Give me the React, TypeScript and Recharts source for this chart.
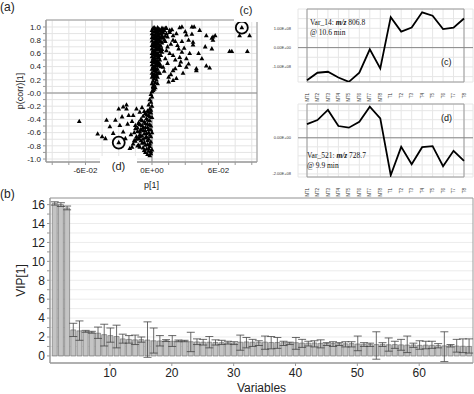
import React from "react";
import {
  ScatterChart,
  Scatter,
  LineChart,
  Line,
  BarChart,
  Bar,
  ErrorBar,
  XAxis,
  YAxis,
  CartesianGrid,
  ReferenceLine,
  ReferenceDot,
  ReferenceArea
} from "recharts";

const SANS = "Arial, 'Liberation Sans', sans-serif";
const SERIF = "'Times New Roman', 'Liberation Serif', serif";

// (a) S-plot: [p[1], p(corr)[1]]
const bandPos: [number, number][] = [
  [0.001, 0.98], [0.003, 0.97], [0.005, 0.99], [0.007, 0.96], [0.009, 0.98], [0.011, 0.95],
  [0.002, 0.93], [0.004, 0.91], [0.006, 0.94], [0.008, 0.9], [0.01, 0.92], [0.013, 0.9],
  [0.001, 0.88], [0.003, 0.86], [0.005, 0.87], [0.007, 0.84], [0.009, 0.86],
  [0.002, 0.82], [0.004, 0.8], [0.006, 0.81], [0.008, 0.78], [0.011, 0.8],
  [0.001, 0.76], [0.003, 0.74], [0.005, 0.75], [0.007, 0.72],
  [0.002, 0.7], [0.004, 0.68], [0.006, 0.69], [0.009, 0.66],
  [0.001, 0.64], [0.003, 0.62], [0.005, 0.6], [0.007, 0.63],
  [0.002, 0.58], [0.004, 0.56], [0.006, 0.54], [0.008, 0.57],
  [0.001, 0.52], [0.003, 0.5], [0.005, 0.48], [0.007, 0.5],
  [0.002, 0.46], [0.004, 0.44], [0.006, 0.42],
  [0.001, 0.4], [0.003, 0.38], [0.005, 0.36], [0.008, 0.4],
  [0.002, 0.34], [0.004, 0.32], [0.006, 0.3],
  [0.001, 0.28], [0.003, 0.26], [0.005, 0.24],
  [0.002, 0.22], [0.004, 0.2], [0.001, 0.18], [0.003, 0.16], [0.005, 0.14],
  [0.002, 0.12], [0.001, 0.1], [0.003, 0.08], [0.002, 0.06], [0.001, 0.04], [0.0, 0.02]
];

const bandPos2: [number, number][] = [
  [0.0, 0.95], [0.002, 0.99], [0.004, 0.95], [0.006, 0.97], [0.008, 0.94], [0.01, 0.97], [0.012, 0.98],
  [0.0, 0.9], [0.003, 0.89], [0.005, 0.92], [0.007, 0.89], [0.009, 0.91], [0.012, 0.86],
  [0.0, 0.84], [0.002, 0.85], [0.004, 0.84], [0.006, 0.86], [0.008, 0.83], [0.01, 0.84],
  [0.0, 0.79], [0.003, 0.78], [0.005, 0.8], [0.007, 0.78], [0.009, 0.76],
  [0.0, 0.72], [0.002, 0.73], [0.004, 0.72], [0.006, 0.74], [0.008, 0.71],
  [0.0, 0.67], [0.003, 0.66], [0.005, 0.66], [0.007, 0.67],
  [0.0, 0.6], [0.002, 0.61], [0.004, 0.6], [0.006, 0.58],
  [0.0, 0.55], [0.002, 0.54], [0.005, 0.53],
  [0.0, 0.48], [0.002, 0.49], [0.004, 0.47], [0.006, 0.46],
  [0.0, 0.43], [0.003, 0.42], [0.005, 0.41],
  [0.0, 0.36], [0.002, 0.37], [0.004, 0.35],
  [0.0, 0.3], [0.002, 0.29], [0.004, 0.28],
  [0.0, 0.24], [0.002, 0.25], [0.0, 0.14], [0.001, 0.08]
];

const bandNeg: [number, number][] = [
  [-0.001, -0.02], [0.0, -0.06], [-0.002, -0.1], [-0.001, -0.14], [-0.003, -0.18], [0.0, -0.2],
  [-0.002, -0.24], [-0.004, -0.27], [-0.001, -0.3], [-0.006, -0.31], [-0.003, -0.34], [-0.008, -0.35],
  [0.0, -0.37], [-0.005, -0.39], [-0.01, -0.4], [-0.002, -0.42], [-0.007, -0.44], [-0.012, -0.45],
  [-0.004, -0.47], [-0.009, -0.49], [-0.001, -0.5], [-0.006, -0.52], [-0.013, -0.53], [-0.003, -0.55],
  [-0.008, -0.57], [-0.011, -0.59], [0.0, -0.6], [-0.005, -0.61], [-0.002, -0.64], [-0.009, -0.65],
  [-0.014, -0.66], [-0.006, -0.68], [-0.003, -0.7], [-0.01, -0.72], [-0.001, -0.74], [-0.007, -0.75],
  [-0.004, -0.78], [-0.012, -0.79], [-0.002, -0.81], [-0.008, -0.83], [-0.005, -0.85], [0.0, -0.86],
  [-0.003, -0.88], [-0.006, -0.9], [-0.001, -0.92], [-0.004, -0.93]
];

const bandNeg2: [number, number][] = [
  [-0.001, -0.26], [-0.003, -0.29], [-0.005, -0.33], [-0.002, -0.36], [-0.004, -0.41], [-0.009, -0.42],
  [-0.006, -0.46], [-0.011, -0.48], [-0.015, -0.49], [-0.002, -0.48], [-0.004, -0.52], [-0.008, -0.53],
  [-0.01, -0.55], [-0.001, -0.56], [-0.006, -0.57], [-0.013, -0.58], [-0.016, -0.6], [-0.003, -0.6],
  [-0.007, -0.62], [-0.011, -0.63], [-0.001, -0.66], [-0.005, -0.66], [-0.012, -0.69], [-0.008, -0.7],
  [-0.004, -0.72], [-0.015, -0.73], [-0.009, -0.76], [-0.002, -0.77], [-0.006, -0.79], [-0.011, -0.82],
  [-0.003, -0.84], [-0.007, -0.87], [-0.001, -0.89], [-0.002, -0.95]
];

const spreadPos: [number, number][] = [
  [0.081, 0.99], [0.079, 0.87], [0.088, 0.87], [0.07, 0.63], [0.072, 0.63], [0.086, 0.63],
  [0.057, 0.87], [0.054, 0.83], [0.055, 0.8], [0.048, 0.7], [0.054, 0.67], [0.049, 0.41],
  [0.052, 0.38], [0.045, 0.52], [0.04, 0.37], [0.036, 1.0], [0.038, 1.0], [0.025, 0.99],
  [0.03, 0.93], [0.031, 0.88], [0.036, 0.89], [0.033, 0.8], [0.037, 0.73], [0.027, 0.78],
  [0.021, 0.78], [0.016, 0.95], [0.01, 0.95], [0.019, 0.87], [0.024, 0.67], [0.027, 0.62],
  [0.019, 0.57], [0.031, 0.52], [0.033, 0.44], [0.025, 0.42], [0.019, 0.34], [0.028, 0.3],
  [0.022, 0.22], [0.015, 0.17], [0.012, 0.52], [0.014, 0.7], [0.009, 0.62], [0.01, 0.39],
  [0.007, 0.3], [0.016, 0.92], [0.019, 0.8], [0.027, 1.0], [0.043, 0.95], [0.049, 0.87],
  [0.055, 0.85], [0.042, 0.6], [0.037, 0.77], [0.025, 0.54], [0.031, 0.39], [0.021, 0.37],
  [0.015, 0.24], [0.019, 0.19], [0.007, 0.44], [0.013, 0.64], [0.004, 0.75], [0.04, 0.34],
  [0.013, 0.98], [0.018, 0.96], [0.022, 0.9], [0.014, 0.85], [0.017, 0.74], [0.023, 0.72],
  [0.012, 0.78], [0.016, 0.6], [0.021, 0.5], [0.014, 0.45], [0.011, 0.33], [0.017, 0.28],
  [0.026, 0.47], [0.029, 0.68], [0.034, 0.6]
];

const spreadNeg: [number, number][] = [
  [-0.0656, -0.43], [-0.049, -0.62], [-0.045, -0.66], [-0.042, -0.69], [-0.03, -0.75],
  [-0.035, -0.61], [-0.038, -0.51], [-0.041, -0.41], [-0.033, -0.41], [-0.03, -0.24],
  [-0.026, -0.21], [-0.023, -0.18], [-0.029, -0.49], [-0.026, -0.59], [-0.021, -0.34],
  [-0.018, -0.43], [-0.02, -0.84], [-0.017, -0.77], [-0.014, -0.24], [-0.011, -0.29],
  [-0.015, -0.54], [-0.011, -0.66], [-0.023, -0.24], [-0.017, -0.34], [-0.012, -0.46],
  [-0.018, -0.82], [-0.014, -0.7], [-0.019, -0.63], [-0.024, -0.69], [-0.016, -0.72],
  [-0.013, -0.8], [-0.022, -0.47], [-0.027, -0.36], [-0.009, -0.22], [-0.007, -0.28]
];

const markC: [number, number] = [0.081, 0.99];
const markD: [number, number] = [-0.03, -0.75];

const pTicks = [-0.09, -0.075, -0.06, -0.045, -0.03, -0.015, 0, 0.015, 0.03, 0.045, 0.06, 0.075, 0.09];
const pLabels: Record<string, string> = { "-0.06": "-6E-02", "0": "0E+00", "0.06": "6E-02" };
const corrTicks = [-1.0, -0.9, -0.8, -0.7, -0.6, -0.5, -0.4, -0.3, -0.2, -0.1, 0, 0.1, 0.2, 0.3, 0.4, 0.5, 0.6, 0.7, 0.8, 0.9, 1.0];

// (c), (d) intensity profiles
const samples = ["NT1", "NT2", "NT3", "NT4", "NT5", "NT6", "NT7", "NT8", "T1", "T2", "T3", "T4", "T5", "T6", "T7", "T8"];
const var14 = [-1.69e8, -1.3e8, -1.25e8, -1.55e8, -1.77e8, -1.3e8, -0.09e8, -1.08e8, 1.58e8, 0.83e8, 1.04e8, 1.83e8, 1.65e8, 0.96e8, 1.03e8, 1.51e8];
const var521 = [0.76e8, 0.98e8, 1.54e8, 0.65e8, 0.56e8, 0.89e8, 1.72e8, 1.07e8, -2.07e8, -0.5e8, -1.46e8, -0.52e8, -0.46e8, -1.57e8, -0.72e8, -1.28e8];
const cTicks = [-1.5e8, -1e8, -0.5e8, 0, 0.5e8, 1e8, 1.5e8];
const dTicks = [-2e8, -1.5e8, -1e8, -0.5e8, 0, 0.5e8, 1e8, 1.5e8];

// (b) VIP with confidence intervals
const vip = [
  16.15, 16.0, 15.65, 2.75, 2.65, 2.6, 2.5, 2.4, 2.25, 2.15,
  2.05, 1.8, 1.75, 1.7, 1.72, 1.68, 1.6, 1.58, 1.62, 1.55,
  1.6, 1.58, 1.5, 1.48, 1.45, 1.45, 1.42, 1.4, 1.4, 1.36,
  1.45, 1.48, 1.45, 1.44, 1.46, 1.42, 1.42, 1.4, 1.38, 1.4,
  1.36, 1.35, 1.37, 1.33, 1.32, 1.33, 1.3, 1.28, 1.3, 1.26,
  1.24, 1.22, 1.2, 1.22, 1.18, 1.2, 1.17, 1.15, 1.16, 1.12,
  1.14, 1.12, 1.1, 1.06, 1.1, 1.04, 1.02, 1.0
];
const vipHi = [
  16.3, 16.2, 15.85, 3.45, 3.7, 2.7, 2.6, 3.05, 3.35, 2.95,
  3.25, 2.3, 2.15, 2.2, 2.0, 3.6, 2.95, 2.15, 1.72, 2.15,
  1.68, 1.65, 2.5, 1.8, 1.75, 2.05, 1.7, 1.65, 1.55, 1.5,
  2.2, 1.95, 1.75, 1.6, 2.1, 2.05, 1.95, 1.55, 1.45, 1.95,
  1.75, 1.55, 1.6, 1.7, 1.4, 1.5, 1.4, 1.5, 1.5, 2.1,
  1.4, 1.35, 2.55, 1.4, 1.9, 1.55, 1.75, 2.1, 1.35, 1.6,
  1.55, 1.55, 1.3, 2.55, 1.2, 1.75, 1.8, 1.8
];
const vipLo = [
  15.95, 15.8, 15.45, 2.05, 1.65, 2.5, 2.4, 1.85, 1.05, 1.45,
  0.85, 1.35, 1.35, 1.2, 1.45, -0.15, 0.3, 1.05, 1.52, 1.0,
  1.5, 1.5, 0.45, 1.2, 1.15, 0.85, 1.15, 1.2, 1.25, 1.2,
  0.6, 0.85, 1.0, 1.1, 0.7, 0.75, 0.8, 1.1, 1.2, 0.7,
  0.9, 1.05, 0.95, 0.85, 1.1, 1.0, 1.1, 0.95, 0.95, 0.55,
  1.0, 1.0, -0.35, 1.0, 0.5, 0.8, 0.6, 0.35, 0.9, 0.7,
  0.75, 0.8, 0.85, -0.6, 0.95, 0.4, 0.35, 0.3
];
const vipTicks = [0, 1, 2, 3, 4, 5, 6, 7, 8, 9, 10, 11, 12, 13, 14, 15, 16];
const varTicks = [10, 20, 30, 40, 50, 60];

const toPts = (arr: [number, number][]) => arr.map(([x, y]) => ({ x, y }));
const profileData = samples.map((s, i) => ({ s, v14: var14[i], v521: var521[i] }));
const vipData = vip.map((v, i) => ({ n: i + 1, v, err: [v - vipLo[i], vipHi[i] - v] }));

const fmtSci = (v: number) => (v === 0 ? "0.00E+00" : (v / 1e8).toFixed(2) + "E+08");

// small filled triangle marker
const Tri = (p: any) => {
  const { cx, cy } = p;
  return (
    <polygon
      points={`${cx},${cy - 2.7} ${cx - 2.4},${cy + 1.6} ${cx + 2.4},${cy + 1.6}`}
      fill="#000"
    />
  );
};

const RotTick = (props: any) => {
  const { x, y, payload } = props;
  return (
    <text
      x={x}
      y={y + 3}
      dy={1.6}
      transform={`rotate(-90, ${x}, ${y + 3})`}
      textAnchor="end"
      fontSize={4.5}
      fill="#333"
      fontFamily={SANS}
    >
      {payload.value}
    </text>
  );
};

const smallTick = { fontSize: 4, fill: "#333", fontFamily: SANS };

const Profile = ({ dataKey, domain, ticks, step }: any) => (
  <LineChart width={212} height={106} data={profileData} margin={{ top: 9, right: 1, bottom: 9, left: 6 }}>
    <CartesianGrid stroke="#e6e6e6" />
    <XAxis
      dataKey="s"
      padding={{ left: 9, right: 9 }}
      interval={0}
      tick={RotTick}
      tickLine={false}
      axisLine={false}
      height={15}
    />
    <YAxis
      type="number"
      domain={domain}
      ticks={ticks}
      interval={0}
      allowDataOverflow
      tickFormatter={(v: number) => (Math.abs(v % step) < 1 ? fmtSci(v) : "")}
      tick={smallTick}
      tickLine={false}
      axisLine={false}
      tickSize={3}
      tickMargin={4}
      width={30}
    />
    <ReferenceLine y={0} stroke="#888" />
    <ReferenceArea y1={domain[0]} y2={domain[1]} fill="none" stroke="#9a9a9a" />
    <Line dataKey={dataKey} stroke="#000" strokeWidth={1.8} dot={false} isAnimationActive={false} />
  </LineChart>
);

const abs = (l: number, t: number, extra: React.CSSProperties = {}): React.CSSProperties => ({
  position: "absolute",
  left: l,
  top: t,
  whiteSpace: "nowrap",
  ...extra
});

export default function App() {
  const pDom: [number, number] = [-0.0956, 0.0947];
  const cDom: [number, number] = [-1.045, 1.106];
  const vDom: [number, number] = [-0.75, 16.7];
  return (
    <div style={{ position: "absolute", left: 0, top: 0, width: 474, height: 394, background: "#fff", overflow: "hidden", fontFamily: SANS }}>
      <div style={abs(0, 0)}>
        <ScatterChart width={260} height={195} margin={{ top: 20, right: 3, bottom: 13, left: 16 }}>
          <CartesianGrid stroke="#e4e4e4" />
          <XAxis
            type="number"
            dataKey="x"
            domain={pDom}
            ticks={pTicks}
            interval={0}
            allowDataOverflow
            tickFormatter={(v: number) => pLabels[String(v)] ?? ""}
            tick={{ fontSize: 8, fill: "#222", fontFamily: SANS }}
            tickSize={3}
            tickMargin={2}
            axisLine={{ stroke: "#999" }}
            tickLine={{ stroke: "#999" }}
            height={20}
            label={{ value: "p[1]", position: "bottom", offset: 0, fontSize: 9, fill: "#222" }}
          />
          <YAxis
            type="number"
            dataKey="y"
            domain={cDom}
            ticks={corrTicks}
            interval={0}
            allowDataOverflow
            tickFormatter={(v: number) => {
              const k = Math.round(v * 10);
              if (k % 2 !== 0) return "";
              return k === 0 ? "-0.0" : v.toFixed(1);
            }}
            tick={{ fontSize: 8, fill: "#222", fontFamily: SANS }}
            tickSize={3}
            tickMargin={2}
            axisLine={{ stroke: "#999" }}
            tickLine={{ stroke: "#999" }}
            width={30}
            label={{ value: "p(corr)[1]", angle: -90, position: "insideLeft", offset: 4, fontSize: 9, fill: "#222", style: { textAnchor: "middle" } }}
          />
          <ReferenceLine y={0} stroke="#8a8a8a" />
          <ReferenceLine x={0} stroke="#8a8a8a" />
          <ReferenceArea y1={cDom[0]} y2={cDom[1]} fill="none" stroke="#9a9a9a" />
          <Scatter data={toPts(bandPos)} shape={Tri} fill="#000" isAnimationActive={false} />
          <Scatter data={toPts(bandPos2)} shape={Tri} fill="#000" isAnimationActive={false} />
          <Scatter data={toPts(bandNeg)} shape={Tri} fill="#000" isAnimationActive={false} />
          <Scatter data={toPts(bandNeg2)} shape={Tri} fill="#000" isAnimationActive={false} />
          <Scatter data={toPts(spreadPos)} shape={Tri} fill="#000" isAnimationActive={false} />
          <Scatter data={toPts(spreadNeg)} shape={Tri} fill="#000" isAnimationActive={false} />
          <ReferenceDot x={markC[0]} y={markC[1]} r={6} fill="none" stroke="#000" strokeWidth={1.8} />
          <ReferenceDot x={markD[0]} y={markD[1]} r={6} fill="none" stroke="#000" strokeWidth={1.8} />
        </ScatterChart>
      </div>
      <div style={abs(100, 156, { width: 37, height: 20, background: "#fff", textAlign: "center", fontSize: 11, lineHeight: "20px", color: "#222" })}>(d)</div>
      <div style={abs(234, 0, { width: 24, height: 22, background: "#fff", textAlign: "center", fontSize: 11, lineHeight: "20px", color: "#222" })}>(c)</div>
      <div style={abs(0, 0, { fontSize: 12, color: "#222" })}>(a)</div>

      <div style={abs(262, 0)}>
        <Profile dataKey="v14" domain={[-1.78e8, 2.0e8]} ticks={cTicks} step={1e8} />
      </div>
      <div style={abs(262, 95)}>
        <Profile dataKey="v521" domain={[-2.17e8, 1.87e8]} ticks={dTicks} step={2e8} />
      </div>
      <div style={abs(310, 18, { fontFamily: SERIF, fontSize: 7.5, lineHeight: "10px", color: "#111" })}>
        Var_14: <b><i>m/z</i></b> 806.8
        <br />@ 10.6 min
      </div>
      <div style={abs(441, 57, { fontSize: 9, color: "#111" })}>(c)</div>
      <div style={abs(441, 113, { fontSize: 9, color: "#111" })}>(d)</div>
      <div style={abs(307, 151, { fontFamily: SERIF, fontSize: 7.5, lineHeight: "10px", color: "#111" })}>
        Var_521: <b><i>m/z</i></b> 728.7
        <br />@ 9.9 min
      </div>

      <div style={abs(0, 190)}>
        <BarChart width={474} height={204} data={vipData} margin={{ top: 8, right: 1, bottom: 9, left: 20 }}>
          <CartesianGrid vertical={false} stroke="#ececec" />
          <XAxis
            type="number"
            dataKey="n"
            domain={[0.3, 68.7]}
            ticks={varTicks}
            interval={0}
            allowDataOverflow
            tick={{ fontSize: 12, fill: "#222", fontFamily: SANS }}
            tickSize={3}
            tickMargin={2}
            axisLine={{ stroke: "#999" }}
            tickLine={{ stroke: "#999" }}
            height={22}
            label={{ value: "Variables", position: "bottom", offset: -2, fontSize: 12, fill: "#222" }}
          />
          <YAxis
            type="number"
            domain={vDom}
            ticks={vipTicks}
            interval={0}
            allowDataOverflow
            tickFormatter={(v: number) => (v % 2 === 0 ? String(v) : "")}
            tick={{ fontSize: 12, fill: "#222", fontFamily: SANS }}
            tickSize={3}
            tickMargin={2}
            axisLine={{ stroke: "#999" }}
            tickLine={{ stroke: "#999" }}
            width={30}
            label={{ value: "VIP[1]", angle: -90, position: "insideLeft", offset: 1, fontSize: 12, fill: "#222", style: { textAnchor: "middle" } }}
          />
          <ReferenceArea y1={vDom[0]} y2={vDom[1]} fill="none" stroke="#9a9a9a" />
          <Bar dataKey="v" fill="#c4c4c4" stroke="#666" strokeWidth={0.6} barSize={5} isAnimationActive={false}>
            <ErrorBar dataKey="err" width={4} stroke="#444" strokeWidth={0.8} isAnimationActive={false} />
          </Bar>
        </BarChart>
      </div>
      <div style={abs(0, 187, { fontSize: 12, color: "#222" })}>(b)</div>
    </div>
  );
}
